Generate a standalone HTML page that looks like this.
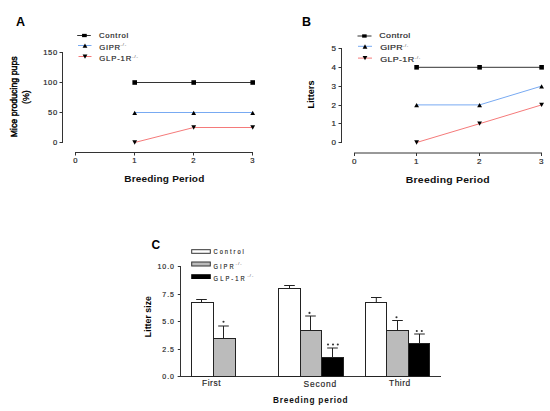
<!DOCTYPE html>
<html><head><meta charset="utf-8"><style>
html,body{margin:0;padding:0;background:#fff;}
body{width:550px;height:411px;overflow:hidden;}
svg{display:block;font-family:"Liberation Sans", sans-serif;}
text:not([stroke]){stroke:#333;stroke-width:0.18px;}
text[font-weight=bold]{stroke:none;}
text.ns{stroke:none;}
</style></head><body>
<svg width="550" height="411" viewBox="0 0 550 411">
<rect width="550" height="411" fill="#fff"/>
<text x="16" y="26" font-size="12.5" text-anchor="start" font-weight="bold" letter-spacing="0" fill="#000" >A</text>
<line x1="77.2" y1="35.5" x2="90.8" y2="35.5" stroke="#333" stroke-width="1"/>
<rect x="82.05" y="33.85" width="4.7" height="3.3" fill="#000"/>
<line x1="78" y1="45.5" x2="91.5" y2="45.5" stroke="#78aaf2" stroke-width="1"/>
<path d="M82.60 47.85L87.40 47.85L85.00 43.55Z" fill="#000"/>
<line x1="78.5" y1="56.5" x2="91.5" y2="56.5" stroke="#f57a7a" stroke-width="1"/>
<path d="M82.60 54.45L87.40 54.45L85.00 58.75Z" fill="#000"/>
<text transform="translate(99,37.9) scale(1.17,1)" font-size="6.6" text-anchor="start" font-weight="normal" letter-spacing="0.62" fill="#222" >Control</text>
<text transform="translate(99.3,49.6) scale(1.17,1)" font-size="6.6" text-anchor="start" font-weight="normal" letter-spacing="0.55" fill="#222" >GIPR</text>
<text transform="translate(120.2,46.4) scale(1.3,1)" font-size="4.2" text-anchor="start" font-weight="normal" letter-spacing="0.35" fill="#555" stroke="none">-/-</text>
<text transform="translate(99.3,61.0) scale(1.17,1)" font-size="6.6" text-anchor="start" font-weight="normal" letter-spacing="0.7" fill="#222" >GLP-1R</text>
<text transform="translate(132.1,57.8) scale(1.3,1)" font-size="4.2" text-anchor="start" font-weight="normal" letter-spacing="0.35" fill="#555" stroke="none">-/-</text>
<line x1="62.5" y1="52" x2="62.5" y2="143" stroke="#333" stroke-width="1"/>
<line x1="59.5" y1="52.5" x2="62.5" y2="52.5" stroke="#333" stroke-width="1"/>
<text transform="translate(57.8,54.9) scale(1.17,1)" font-size="6.5" text-anchor="end" font-weight="normal" letter-spacing="0.55" fill="#222" >150</text>
<line x1="59.5" y1="82.5" x2="62.5" y2="82.5" stroke="#333" stroke-width="1"/>
<text transform="translate(57.8,84.9) scale(1.17,1)" font-size="6.5" text-anchor="end" font-weight="normal" letter-spacing="0.55" fill="#222" >100</text>
<line x1="59.5" y1="112.5" x2="62.5" y2="112.5" stroke="#333" stroke-width="1"/>
<text transform="translate(57.8,114.9) scale(1.17,1)" font-size="6.5" text-anchor="end" font-weight="normal" letter-spacing="0.55" fill="#222" >50</text>
<line x1="59.5" y1="142.5" x2="62.5" y2="142.5" stroke="#333" stroke-width="1"/>
<text transform="translate(57.8,144.9) scale(1.17,1)" font-size="6.5" text-anchor="end" font-weight="normal" letter-spacing="0.55" fill="#222" >0</text>
<line x1="75" y1="152.5" x2="253" y2="152.5" stroke="#333" stroke-width="1"/>
<line x1="75.5" y1="152.5" x2="75.5" y2="155.5" stroke="#333" stroke-width="1"/>
<text transform="translate(75.4,162.6) scale(1.17,1)" font-size="6.5" text-anchor="middle" font-weight="normal" letter-spacing="0" fill="#222" >0</text>
<line x1="134.5" y1="152.5" x2="134.5" y2="155.5" stroke="#333" stroke-width="1"/>
<text transform="translate(134.4,162.6) scale(1.17,1)" font-size="6.5" text-anchor="middle" font-weight="normal" letter-spacing="0" fill="#222" >1</text>
<line x1="193.5" y1="152.5" x2="193.5" y2="155.5" stroke="#333" stroke-width="1"/>
<text transform="translate(193.4,162.6) scale(1.17,1)" font-size="6.5" text-anchor="middle" font-weight="normal" letter-spacing="0" fill="#222" >2</text>
<line x1="252.5" y1="152.5" x2="252.5" y2="155.5" stroke="#333" stroke-width="1"/>
<text transform="translate(252.4,162.6) scale(1.17,1)" font-size="6.5" text-anchor="middle" font-weight="normal" letter-spacing="0" fill="#222" >3</text>
<text transform="translate(124.2,181.5) scale(1.12,1)" font-size="9" text-anchor="start" font-weight="bold" letter-spacing="0.15" fill="#111" >Breeding Period</text>
<g transform="translate(16.7,96.8) rotate(-90)"><text x="0" y="0" font-size="9.2" text-anchor="middle" fill="#000" stroke="#000" stroke-width="0.45" transform="scale(0.955,1)">Mice producing pups</text></g>
<g transform="translate(29.0,97.1) rotate(-90)"><text x="0" y="0" font-size="9.8" text-anchor="middle" fill="#000" stroke="#000" stroke-width="0.35" transform="scale(0.9,1)">(%)</text></g>
<path d="M134.70 82.50 L193.70 82.50 L252.70 82.50" stroke="#333" stroke-width="1" fill="none"/>
<path d="M134.70 112.50 L193.70 112.50 L252.70 112.50" stroke="#78aaf2" stroke-width="1" fill="none"/>
<path d="M134.70 142.50 L193.70 127.50 L252.70 127.50" stroke="#f57a7a" stroke-width="1" fill="none"/>
<rect x="132.40" y="80.20" width="4.6" height="4.6" fill="#000"/>
<path d="M132.30 114.95L137.10 114.95L134.70 110.65Z" fill="#000"/>
<path d="M132.30 140.35L137.10 140.35L134.70 144.65Z" fill="#000"/>
<rect x="191.40" y="80.20" width="4.6" height="4.6" fill="#000"/>
<path d="M191.30 114.95L196.10 114.95L193.70 110.65Z" fill="#000"/>
<path d="M191.30 125.35L196.10 125.35L193.70 129.65Z" fill="#000"/>
<rect x="250.40" y="80.20" width="4.6" height="4.6" fill="#000"/>
<path d="M250.30 114.95L255.10 114.95L252.70 110.65Z" fill="#000"/>
<path d="M250.30 125.35L255.10 125.35L252.70 129.65Z" fill="#000"/>
<text x="302" y="26" font-size="12.5" text-anchor="start" font-weight="bold" letter-spacing="0" fill="#000" >B</text>
<line x1="357.5" y1="36" x2="371.5" y2="36" stroke="#333" stroke-width="1"/>
<rect x="362.15" y="34.35" width="4.5" height="3.3" fill="#000"/>
<line x1="358" y1="46.3" x2="372" y2="46.3" stroke="#78aaf2" stroke-width="1"/>
<path d="M362.60 48.65L367.40 48.65L365.00 44.35Z" fill="#000"/>
<line x1="358" y1="58.1" x2="372" y2="58.1" stroke="#f57a7a" stroke-width="1"/>
<path d="M362.60 56.05L367.40 56.05L365.00 60.35Z" fill="#000"/>
<text transform="translate(379.3,38.1) scale(1.17,1)" font-size="7.6" text-anchor="start" font-weight="normal" letter-spacing="0.34" fill="#222" >Control</text>
<text transform="translate(380.2,50.1) scale(1.17,1)" font-size="7.6" text-anchor="start" font-weight="normal" letter-spacing="0.2" fill="#222" >GIPR</text>
<text transform="translate(402.6,46.9) scale(1.2,1)" font-size="4.4" text-anchor="start" font-weight="normal" letter-spacing="0.3" fill="#555" stroke="none">-/-</text>
<text transform="translate(380.2,61.7) scale(1.17,1)" font-size="7.6" text-anchor="start" font-weight="normal" letter-spacing="0.3" fill="#222" >GLP-1R</text>
<text transform="translate(414.6,58.5) scale(1.2,1)" font-size="4.4" text-anchor="start" font-weight="normal" letter-spacing="0.3" fill="#555" stroke="none">-/-</text>
<line x1="341.5" y1="48" x2="341.5" y2="143" stroke="#333" stroke-width="1"/>
<line x1="338.5" y1="142.5" x2="341.5" y2="142.5" stroke="#333" stroke-width="1"/>
<text transform="translate(335.9,145.1) scale(1.12,1)" font-size="7.2" text-anchor="end" font-weight="normal" letter-spacing="0" fill="#222" >0</text>
<line x1="338.5" y1="123.5" x2="341.5" y2="123.5" stroke="#333" stroke-width="1"/>
<text transform="translate(335.9,126.1) scale(1.12,1)" font-size="7.2" text-anchor="end" font-weight="normal" letter-spacing="0" fill="#222" >1</text>
<line x1="338.5" y1="105.5" x2="341.5" y2="105.5" stroke="#333" stroke-width="1"/>
<text transform="translate(335.9,108.1) scale(1.12,1)" font-size="7.2" text-anchor="end" font-weight="normal" letter-spacing="0" fill="#222" >2</text>
<line x1="338.5" y1="86.5" x2="341.5" y2="86.5" stroke="#333" stroke-width="1"/>
<text transform="translate(335.9,89.1) scale(1.12,1)" font-size="7.2" text-anchor="end" font-weight="normal" letter-spacing="0" fill="#222" >3</text>
<line x1="338.5" y1="67.5" x2="341.5" y2="67.5" stroke="#333" stroke-width="1"/>
<text transform="translate(335.9,70.1) scale(1.12,1)" font-size="7.2" text-anchor="end" font-weight="normal" letter-spacing="0" fill="#222" >4</text>
<line x1="338.5" y1="48.5" x2="341.5" y2="48.5" stroke="#333" stroke-width="1"/>
<text transform="translate(335.9,51.1) scale(1.12,1)" font-size="7.2" text-anchor="end" font-weight="normal" letter-spacing="0" fill="#222" >5</text>
<line x1="354" y1="153" x2="542" y2="153" stroke="#333" stroke-width="1"/>
<line x1="354.5" y1="153" x2="354.5" y2="156" stroke="#333" stroke-width="1"/>
<text transform="translate(354.3,164.2) scale(1.12,1)" font-size="7.2" text-anchor="middle" font-weight="normal" letter-spacing="0" fill="#222" >0</text>
<line x1="416.5" y1="153" x2="416.5" y2="156" stroke="#333" stroke-width="1"/>
<text transform="translate(416.3,164.2) scale(1.12,1)" font-size="7.2" text-anchor="middle" font-weight="normal" letter-spacing="0" fill="#222" >1</text>
<line x1="479.5" y1="153" x2="479.5" y2="156" stroke="#333" stroke-width="1"/>
<text transform="translate(479.3,164.2) scale(1.12,1)" font-size="7.2" text-anchor="middle" font-weight="normal" letter-spacing="0" fill="#222" >2</text>
<line x1="541.5" y1="153" x2="541.5" y2="156" stroke="#333" stroke-width="1"/>
<text transform="translate(541.3,164.2) scale(1.12,1)" font-size="7.2" text-anchor="middle" font-weight="normal" letter-spacing="0" fill="#222" >3</text>
<text transform="translate(405.8,182.6) scale(1.17,1)" font-size="8.9" text-anchor="start" font-weight="bold" letter-spacing="0.22" fill="#111" >Breeding Period</text>
<g transform="translate(314.3,94.5) rotate(-90)"><text x="0" y="0" font-size="9.2" font-weight="bold" text-anchor="middle" fill="#000">Litters</text></g>
<path d="M416.60 67.30 L479.60 67.30 L541.60 67.30" stroke="#333" stroke-width="1" fill="none"/>
<path d="M416.60 104.90 L479.60 104.90 L541.60 86.10" stroke="#78aaf2" stroke-width="1" fill="none"/>
<path d="M416.60 142.50 L479.60 123.70 L541.60 104.90" stroke="#f57a7a" stroke-width="1" fill="none"/>
<rect x="414.30" y="65.00" width="4.6" height="4.6" fill="#000"/>
<path d="M414.20 107.35L419.00 107.35L416.60 103.05Z" fill="#000"/>
<path d="M414.20 140.35L419.00 140.35L416.60 144.65Z" fill="#000"/>
<rect x="477.30" y="65.00" width="4.6" height="4.6" fill="#000"/>
<path d="M477.20 107.35L482.00 107.35L479.60 103.05Z" fill="#000"/>
<path d="M477.20 121.55L482.00 121.55L479.60 125.85Z" fill="#000"/>
<rect x="539.30" y="65.00" width="4.6" height="4.6" fill="#000"/>
<path d="M539.20 88.55L544.00 88.55L541.60 84.25Z" fill="#000"/>
<path d="M539.20 102.75L544.00 102.75L541.60 107.05Z" fill="#000"/>
<text x="151.6" y="248.6" font-size="12" text-anchor="start" font-weight="bold" letter-spacing="0" fill="#000" >C</text>
<rect x="191.7" y="249.7" width="18.6" height="3.6" fill="#fff" stroke="#333" stroke-width="1"/>
<rect x="191.7" y="262" width="18.6" height="4" fill="#bbb" stroke="#333" stroke-width="1"/>
<rect x="191.2" y="274.2" width="19.6" height="4.8" fill="#000"/>
<text transform="translate(213.6,253.5) scale(0.78,1)" font-size="7.4" text-anchor="start" font-weight="normal" letter-spacing="2.5" fill="#222" >Control</text>
<text transform="translate(213.6,268.6) scale(0.78,1)" font-size="7.4" text-anchor="start" font-weight="normal" letter-spacing="2.5" fill="#222" >GIPR</text>
<text transform="translate(235.5,264.9) scale(1.3,1)" font-size="4.0" text-anchor="start" font-weight="normal" letter-spacing="0.5" fill="#666" stroke="none">-/-</text>
<text transform="translate(213.6,280.6) scale(0.78,1)" font-size="7.4" text-anchor="start" font-weight="normal" letter-spacing="2.65" fill="#222" >GLP-1R</text>
<text transform="translate(247.2,276.9) scale(1.3,1)" font-size="4.0" text-anchor="start" font-weight="normal" letter-spacing="0.5" fill="#666" stroke="none">-/-</text>
<line x1="180.5" y1="266" x2="180.5" y2="377" stroke="#333" stroke-width="1"/>
<line x1="177.8" y1="266.5" x2="180.5" y2="266.5" stroke="#333" stroke-width="1"/>
<text x="174.9" y="268.8" font-size="7.0" text-anchor="end" font-weight="normal" letter-spacing="0.95" fill="#222" >10.0</text>
<line x1="177.8" y1="294.5" x2="180.5" y2="294.5" stroke="#333" stroke-width="1"/>
<text x="174.9" y="296.8" font-size="7.0" text-anchor="end" font-weight="normal" letter-spacing="0.95" fill="#222" >7.5</text>
<line x1="177.8" y1="321.5" x2="180.5" y2="321.5" stroke="#333" stroke-width="1"/>
<text x="174.9" y="323.8" font-size="7.0" text-anchor="end" font-weight="normal" letter-spacing="0.95" fill="#222" >5.0</text>
<line x1="177.8" y1="349.5" x2="180.5" y2="349.5" stroke="#333" stroke-width="1"/>
<text x="174.9" y="351.8" font-size="7.0" text-anchor="end" font-weight="normal" letter-spacing="0.95" fill="#222" >2.5</text>
<line x1="177.8" y1="376.5" x2="180.5" y2="376.5" stroke="#333" stroke-width="1"/>
<text x="174.9" y="378.8" font-size="7.0" text-anchor="end" font-weight="normal" letter-spacing="0.95" fill="#222" >0.0</text>
<line x1="177.8" y1="376.5" x2="441" y2="376.5" stroke="#333" stroke-width="1"/>
<line x1="201.5" y1="299.5" x2="201.5" y2="302.5" stroke="#222" stroke-width="1"/>
<line x1="196.2" y1="299.5" x2="206.8" y2="299.5" stroke="#222" stroke-width="1"/>
<rect x="191.5" y="302.5" width="22" height="74" fill="#fff" stroke="#222" stroke-width="1"/>
<line x1="223.5" y1="326.0" x2="223.5" y2="338.5" stroke="#222" stroke-width="1"/>
<line x1="218.2" y1="326.0" x2="228.8" y2="326.0" stroke="#222" stroke-width="1"/>
<rect x="213.5" y="338.5" width="22" height="38" fill="#bbb" stroke="#222" stroke-width="1"/>
<circle cx="223.5" cy="321.8" r="1.05" fill="#333"/>
<line x1="289.5" y1="285.5" x2="289.5" y2="288.5" stroke="#222" stroke-width="1"/>
<line x1="284.2" y1="285.5" x2="294.8" y2="285.5" stroke="#222" stroke-width="1"/>
<rect x="278.5" y="288.5" width="22" height="88" fill="#fff" stroke="#222" stroke-width="1"/>
<line x1="310.5" y1="316.0" x2="310.5" y2="330.5" stroke="#222" stroke-width="1"/>
<line x1="305.2" y1="316.0" x2="315.8" y2="316.0" stroke="#222" stroke-width="1"/>
<rect x="300.5" y="330.5" width="21" height="46" fill="#bbb" stroke="#222" stroke-width="1"/>
<circle cx="309.5" cy="312.9" r="1.05" fill="#333"/>
<line x1="332.5" y1="348.0" x2="332.5" y2="357.5" stroke="#222" stroke-width="1"/>
<line x1="327.2" y1="348.0" x2="337.8" y2="348.0" stroke="#222" stroke-width="1"/>
<rect x="321.5" y="357.5" width="22" height="19" fill="#000" stroke="#222" stroke-width="1"/>
<circle cx="328" cy="344.5" r="1.05" fill="#333"/>
<circle cx="333" cy="344.5" r="1.05" fill="#333"/>
<circle cx="337.8" cy="344.5" r="1.05" fill="#333"/>
<line x1="376.3" y1="297.5" x2="376.3" y2="302.5" stroke="#222" stroke-width="1"/>
<line x1="371.0" y1="297.5" x2="381.6" y2="297.5" stroke="#222" stroke-width="1"/>
<rect x="365.5" y="302.5" width="21" height="74" fill="#fff" stroke="#222" stroke-width="1"/>
<line x1="397.5" y1="320.5" x2="397.5" y2="330.5" stroke="#222" stroke-width="1"/>
<line x1="392.2" y1="320.5" x2="402.8" y2="320.5" stroke="#222" stroke-width="1"/>
<rect x="386.5" y="330.5" width="22" height="46" fill="#bbb" stroke="#222" stroke-width="1"/>
<circle cx="396.5" cy="317.2" r="1.05" fill="#333"/>
<line x1="419.5" y1="334.0" x2="419.5" y2="343.5" stroke="#222" stroke-width="1"/>
<line x1="414.2" y1="334.0" x2="424.8" y2="334.0" stroke="#222" stroke-width="1"/>
<rect x="408.5" y="343.5" width="21" height="33" fill="#000" stroke="#222" stroke-width="1"/>
<circle cx="416.8" cy="331" r="1.05" fill="#333"/>
<circle cx="421.8" cy="331" r="1.05" fill="#333"/>
<text x="202" y="385.9" font-size="8.4" text-anchor="start" font-weight="normal" letter-spacing="0.55" fill="#222" >First</text>
<text x="303.6" y="386.5" font-size="8.4" text-anchor="start" font-weight="normal" letter-spacing="0.85" fill="#222" >Second</text>
<text x="389" y="385.9" font-size="8.4" text-anchor="start" font-weight="normal" letter-spacing="0.55" fill="#222" >Third</text>
<text transform="translate(273,402.9) scale(0.92,1)" font-size="9" text-anchor="start" font-weight="bold" letter-spacing="0.88" fill="#111" >Breeding period</text>
<g transform="translate(150.6,316.6) rotate(-90)"><text x="0" y="0" font-size="8.8" font-weight="bold" text-anchor="middle" fill="#000">Litter size</text></g>
</svg>
</body></html>
